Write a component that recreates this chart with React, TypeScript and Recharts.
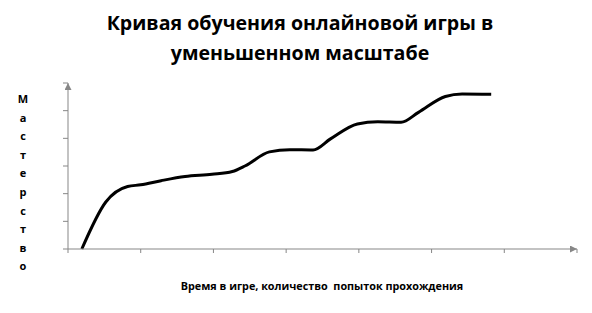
import React from 'react'
import { LineChart, Line, XAxis, YAxis } from 'recharts'

document.body.style.margin = '0'

// points (x = attempts/time, y = mastery)
const timeX = [0.19, 0.52, 0.82, 1.0, 1.28, 1.61, 1.98, 2.26, 2.44, 2.77, 3.05, 3.37, 3.61, 3.98, 4.26, 4.58, 4.82, 5.19, 5.42, 5.82]
const mastery = [0, 1.7, 2.26, 2.32, 2.47, 2.62, 2.7, 2.8, 3.01, 3.51, 3.59, 3.58, 3.98, 4.52, 4.6, 4.58, 4.94, 5.51, 5.6, 5.59]
const xTicks = [0, 1, 2, 3, 4, 5, 6, 7]
const yTicks = [0, 1, 2, 3, 4, 5, 6]

const titleLines = ['Кривая обучения онлайновой игры в', 'уменьшенном масштабе']
const yLabel = 'Мастерство'
const xLabel = 'Время в игре, количество  попыток прохождения'

const data = timeX.map((t, i) => ({ t, m: mastery[i] }))

const axisColor = '#878787'
const labelFont = '"Open Sans", sans-serif'

function YLabel() {
  return (
    <text x={23} fontFamily={labelFont} fontWeight={700} fontSize={11} fill="#000" textAnchor="middle">
      {yLabel.split('').map((ch, i) => (
        <tspan key={i} x={23} y={103 + i * 18.6}>{ch}</tspan>
      ))}
    </text>
  )
}

function XLabel() {
  return (
    <text x={322} y={290} fontFamily={labelFont} fontWeight={700} fontSize={10.8} fill="#000" textAnchor="middle" style={{ whiteSpace: 'pre' }}>
      {xLabel}
    </text>
  )
}

const noLabel = () => ''

export default function App() {
  return (
    <div style={{ position: 'relative', width: 592, height: 313, background: '#fff' }}>
      <svg width={0} height={0} style={{ position: 'absolute' }}>
        <defs>
          <marker id="axisArrow" viewBox="0 0 10 10" refX={10} refY={5} markerWidth={7} markerHeight={7} markerUnits="userSpaceOnUse" orient="auto-start-reverse">
            <path d="M0,0 L10,5 L0,10 z" fill={axisColor} />
          </marker>
        </defs>
      </svg>
      <div style={{ position: 'absolute', top: 8, left: 0, width: 600, textAlign: 'center', fontFamily: labelFont, fontWeight: 700, fontSize: 19.6, lineHeight: '30px', color: '#000' }}>
        {titleLines.map((l) => (
          <div key={l}>{l}</div>
        ))}
      </div>
      <LineChart width={592} height={313} data={data} margin={{ top: 83, right: 15, bottom: 0, left: 0 }}>
        <XAxis
          dataKey="t"
          type="number"
          domain={[0, 7]}
          ticks={xTicks}
          height={64}
          tickFormatter={noLabel}
          tickSize={4}
          stroke={axisColor}
          axisLine={{ stroke: axisColor, markerEnd: 'url(#axisArrow)' }}
          tickLine={{ stroke: axisColor }}
          label={<XLabel />}
        />
        <YAxis
          type="number"
          domain={[0, 6]}
          ticks={yTicks}
          width={68}
          tickFormatter={noLabel}
          tickSize={5}
          stroke={axisColor}
          axisLine={{ stroke: axisColor, markerStart: 'url(#axisArrow)' }}
          tickLine={{ stroke: axisColor }}
          label={<YLabel />}
        />
        <Line dataKey="m" type="monotone" stroke="#000" strokeWidth={3} dot={false} isAnimationActive={false} />
      </LineChart>
    </div>
  )
}
